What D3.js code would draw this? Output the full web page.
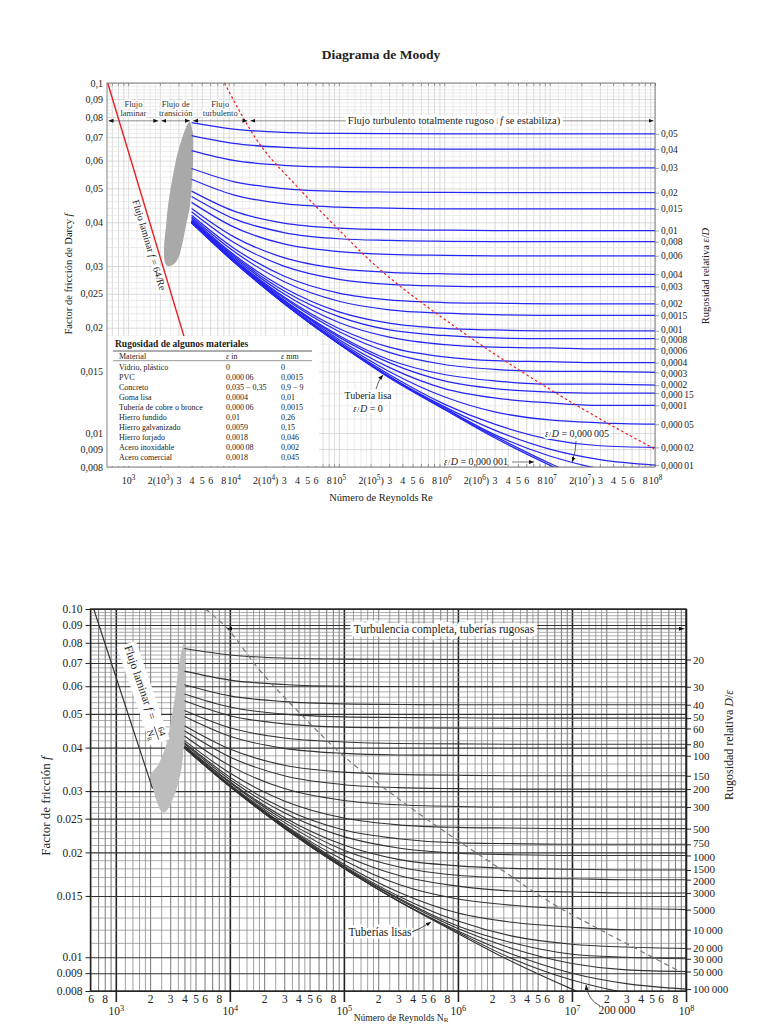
<!DOCTYPE html>
<html>
<head>
<meta charset="utf-8">
<script src="https://cdn.jsdelivr.net/npm/d3@7"></script>
<style>
body { margin: 0; background: #fff; }
svg { display: block; }
text { font-family: "Liberation Serif", "DejaVu Serif", serif; }
</style>
</head>
<body>
<svg id="chart" width="768" height="1024"></svg>
<script>
const reynolds = [4e3, 1e4, 3e4, 1e5, 3e5, 1e6, 3e6, 1e7, 3e7, 1e8];

// top chart: relative roughness e/D labels (right side), one row of f per curve
const roughTopLabels = ["0,05", "0,04", "0,03", "0,02", "0,015", "0,01", "0,008", "0,006",
    "0,004", "0,003", "0,002", "0,0015", "0,001", "0,0008", "0,0006", "0,0004", "0,0003",
    "0,0002", "0,000\u200915", "0,0001", "0,000\u200905", "0,000\u200902", "0,000\u200901"];

const frictionTop = [
    [0.0770, 0.0738, 0.0723, 0.0718, 0.0717, 0.0716, 0.0716, 0.0716, 0.0716, 0.0716],
    [0.0707, 0.0672, 0.0655, 0.0649, 0.0648, 0.0647, 0.0647, 0.0647, 0.0647, 0.0647],
    [0.0641, 0.0601, 0.0582, 0.0575, 0.0573, 0.0572, 0.0572, 0.0572, 0.0572, 0.0572],
    [0.0570, 0.0523, 0.0499, 0.0490, 0.0488, 0.0487, 0.0486, 0.0486, 0.0486, 0.0486],
    [0.0531, 0.0479, 0.0452, 0.0442, 0.0439, 0.0437, 0.0437, 0.0437, 0.0437, 0.0437],
    [0.0491, 0.0431, 0.0398, 0.0385, 0.0381, 0.0380, 0.0379, 0.0379, 0.0379, 0.0379],
    [0.0474, 0.0410, 0.0374, 0.0359, 0.0355, 0.0353, 0.0352, 0.0352, 0.0352, 0.0352],
    [0.0456, 0.0388, 0.0347, 0.0330, 0.0324, 0.0322, 0.0321, 0.0321, 0.0321, 0.0321],
    [0.0438, 0.0364, 0.0317, 0.0295, 0.0288, 0.0285, 0.0284, 0.0284, 0.0284, 0.0284],
    [0.0429, 0.0351, 0.0300, 0.0275, 0.0266, 0.0263, 0.0262, 0.0262, 0.0262, 0.0262],
    [0.0419, 0.0338, 0.0281, 0.0251, 0.0240, 0.0236, 0.0235, 0.0234, 0.0234, 0.0234],
    [0.0414, 0.0331, 0.0271, 0.0238, 0.0225, 0.0220, 0.0218, 0.0217, 0.0217, 0.0217],
    [0.0410, 0.0324, 0.0260, 0.0222, 0.0206, 0.0199, 0.0197, 0.0196, 0.0196, 0.0196],
    [0.0407, 0.0321, 0.0255, 0.0215, 0.0197, 0.0190, 0.0187, 0.0186, 0.0186, 0.0186],
    [0.0404, 0.0318, 0.0250, 0.0207, 0.0188, 0.0179, 0.0176, 0.0175, 0.0174, 0.0174],
    [0.0403, 0.0315, 0.0245, 0.0199, 0.0176, 0.0165, 0.0161, 0.0160, 0.0159, 0.0159],
    [0.0402, 0.0313, 0.0243, 0.0195, 0.0170, 0.0157, 0.0152, 0.0150, 0.0150, 0.0149],
    [0.0401, 0.0312, 0.0240, 0.0190, 0.0162, 0.0147, 0.0141, 0.0138, 0.0138, 0.0137],
    [0.0401, 0.0312, 0.0239, 0.0188, 0.0159, 0.0141, 0.0134, 0.0131, 0.0130, 0.0130],
    [0.0400, 0.0311, 0.0239, 0.0185, 0.0154, 0.0134, 0.0126, 0.0122, 0.0120, 0.0120],
    [0.0400, 0.0310, 0.0237, 0.0183, 0.0150, 0.0127, 0.0115, 0.0109, 0.0107, 0.0106],
    [0.0400, 0.0310, 0.0236, 0.0181, 0.0147, 0.0121, 0.0106, 0.0096, 0.0092, 0.0091],
    [0.0400, 0.0310, 0.0235, 0.0180, 0.0145, 0.0119, 0.0102, 0.0090, 0.0084, 0.0081],
    // e/D = 0,000 005, 0,000 001 and smooth pipe (no side label)
    [0.0399, 0.0309, 0.0235, 0.0180, 0.0145, 0.0118, 0.0099, 0.0086, 0.0079, 0.0075],
    [0.0399, 0.0309, 0.0235, 0.0180, 0.0144, 0.0117, 0.0098, 0.0082, 0.0071, 0.0063],
    [0.0399, 0.0309, 0.0235, 0.0180, 0.0145, 0.0117, 0.0097, 0.0081, 0.0070, 0.0059]
];

// bottom chart: D/e labels and curves
const roughBottomLabels = ["20", "30", "40", "50", "60", "80", "100", "150", "200", "300", "500",
    "750", "1000", "1500", "2000", "3000", "5000", "10\u2009000", "20\u2009000", "30\u2009000",
    "50\u2009000", "100\u2009000"];

const frictionBottom = [
    [0.0770, 0.0738, 0.0723, 0.0718, 0.0717, 0.0716, 0.0716, 0.0716, 0.0716, 0.0716],
    [0.0663, 0.0625, 0.0607, 0.0600, 0.0599, 0.0598, 0.0598, 0.0598, 0.0598, 0.0598],
    [0.0606, 0.0563, 0.0542, 0.0534, 0.0532, 0.0531, 0.0531, 0.0531, 0.0531, 0.0531],
    [0.0570, 0.0523, 0.0499, 0.0490, 0.0488, 0.0487, 0.0486, 0.0486, 0.0486, 0.0486],
    [0.0545, 0.0494, 0.0468, 0.0458, 0.0456, 0.0455, 0.0454, 0.0454, 0.0454, 0.0454],
    [0.0511, 0.0456, 0.0426, 0.0415, 0.0411, 0.0410, 0.0409, 0.0409, 0.0409, 0.0409],
    [0.0491, 0.0431, 0.0398, 0.0385, 0.0381, 0.0380, 0.0379, 0.0379, 0.0379, 0.0379],
    [0.0462, 0.0396, 0.0356, 0.0340, 0.0335, 0.0333, 0.0332, 0.0332, 0.0332, 0.0332],
    [0.0447, 0.0376, 0.0332, 0.0313, 0.0307, 0.0305, 0.0304, 0.0304, 0.0304, 0.0304],
    [0.0432, 0.0355, 0.0305, 0.0282, 0.0274, 0.0271, 0.0270, 0.0270, 0.0270, 0.0270],
    [0.0419, 0.0338, 0.0281, 0.0251, 0.0240, 0.0236, 0.0235, 0.0234, 0.0234, 0.0234],
    [0.0413, 0.0329, 0.0267, 0.0232, 0.0219, 0.0213, 0.0212, 0.0211, 0.0211, 0.0211],
    [0.0410, 0.0324, 0.0260, 0.0222, 0.0206, 0.0199, 0.0197, 0.0196, 0.0196, 0.0196],
    [0.0405, 0.0319, 0.0252, 0.0210, 0.0191, 0.0183, 0.0180, 0.0179, 0.0178, 0.0178],
    [0.0404, 0.0317, 0.0248, 0.0203, 0.0182, 0.0172, 0.0169, 0.0168, 0.0167, 0.0167],
    [0.0402, 0.0313, 0.0244, 0.0196, 0.0172, 0.0160, 0.0155, 0.0154, 0.0153, 0.0153],
    [0.0401, 0.0312, 0.0240, 0.0190, 0.0162, 0.0147, 0.0141, 0.0138, 0.0138, 0.0137],
    [0.0400, 0.0311, 0.0239, 0.0185, 0.0154, 0.0134, 0.0126, 0.0122, 0.0120, 0.0120],
    [0.0400, 0.0310, 0.0237, 0.0183, 0.0150, 0.0127, 0.0115, 0.0109, 0.0107, 0.0106],
    [0.0400, 0.0310, 0.0237, 0.0182, 0.0148, 0.0123, 0.0110, 0.0102, 0.0100, 0.0099],
    [0.0400, 0.0310, 0.0236, 0.0181, 0.0147, 0.0121, 0.0106, 0.0096, 0.0092, 0.0091],
    [0.0400, 0.0310, 0.0235, 0.0180, 0.0145, 0.0119, 0.0102, 0.0090, 0.0084, 0.0081],
    // D/e = 200 000 and smooth pipes
    [0.0399, 0.0309, 0.0235, 0.0180, 0.0145, 0.0118, 0.0099, 0.0086, 0.0079, 0.0075],
    [0.0399, 0.0309, 0.0235, 0.0180, 0.0145, 0.0117, 0.0097, 0.0081, 0.0070, 0.0059]
];

// laminar lines [Re, f]
const laminarTop = [[640, 0.1], [4000, 0.016]];
const laminarBottom = [[640, 0.1], [2100, 0.0305]];

// limit of the fully rough zone [Re, f]
const roughLimitTop = [[8200, 0.1], [16000, 0.07], [43000, 0.0495], [85000, 0.04], [200000, 0.031],
    [1.3e6, 0.02], [5.4e6, 0.015], [1.8e7, 0.012], [3.9e7, 0.0105], [1e8, 0.009]];
const roughLimitBottom = [[6100, 0.1], [9500, 0.088], [17400, 0.068], [41600, 0.05], [93000, 0.0386],
    [311000, 0.0283], [2.2e6, 0.0182], [7.4e6, 0.014], [1.4e7, 0.0125], [8.3e7, 0.0092]];

// critical (transition) zone outlines [Re, f]
const criticalTop = [[3875, 0.0774], [4138, 0.0710], [4138, 0.0603], [4048, 0.0528], [3875, 0.0448],
    [3551, 0.0393], [3326, 0.0356], [3115, 0.0327], [2853, 0.0308], [2503, 0.0300], [2294, 0.0302],
    [2196, 0.0316], [2196, 0.0344], [2294, 0.0393], [2396, 0.0448], [2615, 0.0528], [2917, 0.0623],
    [3326, 0.0710], [3629, 0.0759]];
const criticalBottom = [[3985, 0.0800], [4067, 0.0715], [4067, 0.0548], [3985, 0.0421], [3751, 0.0345],
    [3390, 0.0302], [3003, 0.0274], [2716, 0.0261], [2455, 0.0265], [2265, 0.0283], [2089, 0.0312],
    [2006, 0.0334], [2358, 0.0357], [2771, 0.0407], [3064, 0.0480], [3323, 0.0567], [3530, 0.0669],
    [3751, 0.0754]];

// flow regimes along the top of the first chart
const regimeBounds = [630, 2000, 4000, 14000, 1e8];

const yTickValues = [0.008, 0.009, 0.01, 0.015, 0.02, 0.025, 0.03, 0.04, 0.05, 0.06, 0.07, 0.08, 0.09, 0.1];

// materials table
const materials = ["Vidrio, plástico", "PVC", "Concreto", "Goma lisa", "Tubería de cobre o bronce",
    "Hierro fundido", "Hierro galvanizado", "Hierro forjado", "Acero inoxidable", "Acero comercial"];
const roughIn = ["0", "0,000\u200906", "0,035 \u2212 0,35", "0,0004", "0,000\u200906", "0,01", "0,0059",
    "0,0018", "0,000\u200908", "0,0018"];
const roughMm = ["0", "0,0015", "0,9 \u2212 9", "0,01", "0,0015", "0,26", "0,15", "0,046", "0,002", "0,045"];

// small vertical nudges (px) for crowded side labels
const nudgeTop = { 12: -1, 13: 0.5, 14: 1.5, 15: -0.5, 16: 0.7, 17: -1, 18: 1.2 };
const nudgeBottom = { 3: -1, 4: 1, 11: -1.2, 12: 1, 13: -1.3, 14: 1 };

const svg = d3.select("#chart");
const defs = svg.append("defs");

defs.append("marker")
    .attr("id", "arrow")
    .attr("viewBox", "0 0 10 10")
    .attr("refX", 10).attr("refY", 5)
    .attr("markerUnits", "userSpaceOnUse")
    .attr("markerWidth", 5).attr("markerHeight", 5)
    .attr("orient", "auto-start-reverse")
    .append("path").attr("d", "M0,1L10,5L0,9z").attr("fill", "#111");

function logValues(lo, hi, mults) {
    const out = [];
    for (let e = 2; e <= 8; e++) {
        mults.forEach(m => {
            const v = m * Math.pow(10, e);
            if (v >= lo * 0.999 && v <= hi * 1.001) out.push(v);
        });
    }
    return out;
}

function mantissa(d) {
    const e = Math.floor(Math.log10(d) + 1e-9);
    return { e: e, m: Math.round(d / Math.pow(10, e) * 10) / 10 };
}

function sup(n) {
    return `<tspan dy="-4" font-size="0.72em">${n}</tspan>`;
}

const gridMults = [1, 1.2, 1.4, 1.6, 1.8, 2, 2.5, 3, 3.5, 4, 4.5, 5, 6, 7, 8, 9];
const gridF = d3.range(8, 30, 1).map(v => v / 1000).concat(d3.range(30, 101, 2).map(v => v / 1000));

const curveLine = (x, y) => d3.line()
    .x(d => x(d[0]))
    .y(d => y(d[1]))
    .curve(d3.curveMonotoneX);

drawTop();
drawBottom();

function drawTop() {
    const x = d3.scaleLog().domain([630, 1e8]).range([107, 655]);
    const y = d3.scaleLog().domain([0.008, 0.1]).range([467, 83]);
    const [left, right] = x.range();
    const [bottom, top] = y.range();
    const g = svg.append("g");

    defs.append("clipPath").attr("id", "clip-top").append("rect")
        .attr("x", left).attr("y", top).attr("width", right - left).attr("height", bottom - top);

    // grid
    const gx = g.append("g").attr("transform", `translate(0,${bottom})`)
        .call(d3.axisBottom(x).tickValues(logValues(630, 1e8, gridMults)).tickSize(-(bottom - top)).tickFormat(""));
    gx.select(".domain").remove();
    gx.selectAll("line")
        .attr("stroke", d => Number.isInteger(mantissa(d).m) ? "#cbcbcb" : "#e4e4e4")
        .attr("stroke-width", 0.7);

    const gy = g.append("g").attr("transform", `translate(${left},0)`)
        .call(d3.axisLeft(y).tickValues(gridF).tickSize(-(right - left)).tickFormat(""));
    gy.select(".domain").remove();
    gy.selectAll("line")
        .attr("stroke", d => yTickValues.some(v => Math.abs(v - d) < 1e-6) ? "#cbcbcb" : "#e4e4e4")
        .attr("stroke-width", 0.7);

    const plot = g.append("g").attr("clip-path", "url(#clip-top)");
    const line = curveLine(x, y);

    plot.append("path")
        .datum(criticalTop)
        .attr("d", d3.line().x(d => x(d[0])).y(d => y(d[1])).curve(d3.curveCardinalClosed.tension(0.3)))
        .attr("fill", "#a9a9a9");

    plot.append("path").datum(laminarTop)
        .attr("d", d3.line().x(d => x(d[0])).y(d => y(d[1])))
        .attr("fill", "none").attr("stroke", "#ee1c1c").attr("stroke-width", 1.4);

    plot.selectAll(".curve")
        .data(frictionTop)
        .enter().append("path")
        .attr("class", "curve")
        .attr("d", row => line(reynolds.map((r, i) => [r, row[i]])))
        .attr("fill", "none")
        .attr("stroke", "#2626f2")
        .attr("stroke-width", 1.25);

    plot.append("path").datum(roughLimitTop)
        .attr("d", line)
        .attr("fill", "none").attr("stroke", "#f01a1a")
        .attr("stroke-width", 1.2).attr("stroke-dasharray", "2.5,2.5");

    // flow regimes
    const fReg = 0.078;
    const regimes = g.append("g");
    for (let i = 0; i < regimeBounds.length - 1; i++) {
        regimes.append("line")
            .attr("x1", x(regimeBounds[i]) + 1.5).attr("x2", x(regimeBounds[i + 1]) - 1.5)
            .attr("y1", y(fReg)).attr("y2", y(fReg))
            .attr("stroke", "#555").attr("stroke-width", 0.6)
            .attr("marker-start", "url(#arrow)").attr("marker-end", "url(#arrow)");
    }
    const regimeText = [["Flujo", "laminar"], ["Flujo de", "transición"], ["Flujo", "turbulento"]];
    regimeText.forEach((lines, i) => {
        const cx = x(Math.sqrt(regimeBounds[i] * regimeBounds[i + 1]));
        lines.forEach((t, j) => {
            regimes.append("text")
                .attr("x", cx).attr("y", y(fReg) - 14 + j * 9)
                .attr("text-anchor", "middle").attr("font-size", 8.5).attr("fill", "#333")
                .attr("stroke", "#fff").attr("stroke-width", 3).attr("paint-order", "stroke")
                .text(t);
        });
    });
    regimes.append("text")
        .attr("x", 454).attr("y", y(fReg) + 3.5)
        .attr("text-anchor", "middle").attr("font-size", 10.5).attr("fill", "#222")
        .attr("stroke", "#fff").attr("stroke-width", 6).attr("paint-order", "stroke")
        .html('Flujo turbulento totalmente rugoso (<tspan font-style="italic">f</tspan> se estabiliza)');

    // laminar label
    g.append("text")
        .attr("transform", "translate(146,246) rotate(73)")
        .attr("text-anchor", "middle").attr("font-size", 10).attr("fill", "#222")
        .attr("stroke", "#fff").attr("stroke-width", 4).attr("paint-order", "stroke")
        .html('Flujo laminar <tspan font-style="italic">f</tspan> = 64/Re');

    // annotations
    const ann = g.append("g").attr("font-size", 10).attr("fill", "#222").attr("text-anchor", "middle");
    ann.append("text").attr("x", 368).attr("y", 399)
        .attr("stroke", "#fff").attr("stroke-width", 4).attr("paint-order", "stroke").text("Tubería lisa");
    ann.append("text").attr("x", 368).attr("y", 412)
        .attr("stroke", "#fff").attr("stroke-width", 4).attr("paint-order", "stroke")
        .html('<tspan font-style="italic">ε</tspan>/<tspan font-style="italic">D</tspan> = 0');
    ann.append("path").attr("d", "M376,389 Q378,381 383,375")
        .attr("fill", "none").attr("stroke", "#222").attr("stroke-width", 0.7).attr("marker-end", "url(#arrow)");
    ann.append("text").attr("x", 577).attr("y", 437)
        .attr("stroke", "#fff").attr("stroke-width", 4).attr("paint-order", "stroke")
        .html('<tspan font-style="italic">ε</tspan>/<tspan font-style="italic">D</tspan> = 0,000\u2009005');
    ann.append("path").attr("d", "M576,441 Q576,452 572,462")
        .attr("fill", "none").attr("stroke", "#222").attr("stroke-width", 0.7).attr("marker-end", "url(#arrow)");
    ann.append("text").attr("x", 476).attr("y", 465)
        .attr("stroke", "#fff").attr("stroke-width", 4).attr("paint-order", "stroke")
        .html('<tspan font-style="italic">ε</tspan>/<tspan font-style="italic">D</tspan> = 0,000\u2009001');
    ann.append("line").attr("x1", 512).attr("x2", 534).attr("y1", 462).attr("y2", 462)
        .attr("stroke", "#bbb").attr("stroke-width", 2).attr("marker-end", "url(#arrow)");

    // frame
    g.append("rect").attr("x", left).attr("y", top).attr("width", right - left).attr("height", bottom - top)
        .attr("fill", "none").attr("stroke", "#666").attr("stroke-width", 0.8);

    const majorX = logValues(630, 1e8, [1, 2, 3, 4, 5, 6, 7, 8, 9]);
    [["axisTop", top], ["axisBottom", bottom]].forEach(([fn, yy]) => {
        const t = g.append("g").attr("transform", `translate(0,${yy})`)
            .call(d3[fn](x).tickValues(majorX).tickSize(-3).tickFormat(""));
        t.select(".domain").remove();
        t.selectAll("line").attr("stroke", "#666").attr("stroke-width", 0.6);
    });

    // materials table
    const tb = g.append("g").attr("fill", "#222");
    tb.append("rect").attr("x", left + 1).attr("y", 336).attr("width", 211).attr("height", bottom - 337)
        .attr("fill", "#fff");
    tb.append("text").attr("x", 115).attr("y", 347).attr("font-size", 9.5).attr("font-weight", "bold")
        .text("Rugosidad de algunos materiales");
    tb.append("line").attr("x1", 113).attr("x2", 312).attr("y1", 351).attr("y2", 351)
        .attr("stroke", "#333").attr("stroke-width", 0.8);
    tb.append("line").attr("x1", 113).attr("x2", 312).attr("y1", 360.7).attr("y2", 360.7)
        .attr("stroke", "#333").attr("stroke-width", 0.5);
    const colX = [119, 226, 281];
    tb.append("text").attr("x", colX[0]).attr("y", 358.5).attr("font-size", 8).text("Material");
    tb.append("text").attr("x", colX[1]).attr("y", 358.5).attr("font-size", 8)
        .html('<tspan font-style="italic">ε</tspan> in');
    tb.append("text").attr("x", colX[2]).attr("y", 358.5).attr("font-size", 8)
        .html('<tspan font-style="italic">ε</tspan> mm');
    materials.forEach((m, i) => {
        const yy = 369.7 + i * 10;
        tb.append("text").attr("x", colX[0]).attr("y", yy).attr("font-size", 8).text(m);
        tb.append("text").attr("x", colX[1]).attr("y", yy).attr("font-size", 8).text(roughIn[i]);
        tb.append("text").attr("x", colX[2]).attr("y", yy).attr("font-size", 8).text(roughMm[i]);
    });

    // axes
    const ay = g.append("g").attr("transform", `translate(${left},0)`)
        .call(d3.axisLeft(y).tickValues(yTickValues).tickSize(0).tickPadding(4)
            .tickFormat(d => String(d).replace(".", ",")));
    ay.select(".domain").remove();
    ay.selectAll("text").attr("font-size", 10).attr("fill", "#222")
        .attr("font-family", '"Liberation Serif", serif');

    const xTicks = logValues(1000, 1e8, [1, 2, 3, 4, 5, 6, 8]);
    const ax = g.append("g").attr("transform", `translate(0,${bottom})`)
        .call(d3.axisBottom(x).tickValues(xTicks).tickSize(0).tickPadding(10));
    ax.select(".domain").remove();
    ax.selectAll("text").attr("font-size", 10).attr("fill", "#222")
        .attr("font-family", '"Liberation Serif", serif')
        .html(d => {
            const { e, m } = mantissa(d);
            if (m === 1) return "10" + sup(e);
            if (m === 2) return "2(10" + sup(e) + '<tspan dy="4">)</tspan>';
            return String(m);
        });

    const roughF = frictionTop.slice(0, roughTopLabels.length).map(row => row[row.length - 1]);
    const ar = g.append("g").attr("transform", `translate(${right},0)`)
        .call(d3.axisRight(y).tickValues(roughF).tickSize(4).tickPadding(2)
            .tickFormat((d, i) => roughTopLabels[i]));
    ar.select(".domain").remove();
    ar.selectAll("line").attr("stroke", "#666").attr("stroke-width", 0.6);
    ar.selectAll("text").attr("font-size", 9.5).attr("fill", "#222")
        .attr("font-family", '"Liberation Serif", serif')
        .attr("transform", (d, i) => `translate(0,${nudgeTop[i] || 0})`);

    // titles
    g.append("text").attr("x", 381).attr("y", 59).attr("text-anchor", "middle")
        .attr("font-size", 13.5).attr("font-weight", "bold").attr("fill", "#222")
        .text("Diagrama de Moody");
    g.append("text").attr("x", 381).attr("y", 501).attr("text-anchor", "middle")
        .attr("font-size", 10.5).attr("fill", "#222").text("Número de Reynolds Re");
    g.append("text").attr("transform", "translate(72,274) rotate(-90)").attr("text-anchor", "middle")
        .attr("font-size", 10.5).attr("fill", "#222")
        .html('Factor de fricción de Darcy <tspan font-style="italic">f</tspan>');
    g.append("text").attr("transform", "translate(709,276) rotate(-90)").attr("text-anchor", "middle")
        .attr("font-size", 10.5).attr("fill", "#222")
        .html('Rugosidad relativa <tspan font-style="italic">ε</tspan>/<tspan font-style="italic">D</tspan>');
}

function drawBottom() {
    const x = d3.scaleLog().domain([600, 1e8]).range([90.5, 686]);
    const y = d3.scaleLog().domain([0.008, 0.1]).range([991, 609]);
    const [left, right] = x.range();
    const [bottom, top] = y.range();
    const g = svg.append("g");

    defs.append("clipPath").attr("id", "clip-bottom").append("rect")
        .attr("x", left).attr("y", top).attr("width", right - left).attr("height", bottom - top);

    // grid
    const gx = g.append("g").attr("transform", `translate(0,${bottom})`)
        .call(d3.axisBottom(x).tickValues(logValues(600, 1e8, gridMults)).tickSize(-(bottom - top)).tickFormat(""));
    gx.select(".domain").remove();
    gx.selectAll("line")
        .attr("stroke", d => mantissa(d).m === 1 ? "#222" : (Number.isInteger(mantissa(d).m) ? "#555" : "#8a8a8a"))
        .attr("stroke-width", d => mantissa(d).m === 1 ? 1.6 : 0.8);

    const gy = g.append("g").attr("transform", `translate(${left},0)`)
        .call(d3.axisLeft(y).tickValues(gridF).tickSize(-(right - left)).tickFormat(""));
    gy.select(".domain").remove();
    gy.selectAll("line")
        .attr("stroke", d => yTickValues.some(v => Math.abs(v - d) < 1e-6) ? "#333" : "#8a8a8a")
        .attr("stroke-width", d => yTickValues.some(v => Math.abs(v - d) < 1e-6) ? 1.1 : 0.7);

    const plot = g.append("g").attr("clip-path", "url(#clip-bottom)");
    const line = curveLine(x, y);

    plot.append("path")
        .datum(criticalBottom)
        .attr("d", d3.line().x(d => x(d[0])).y(d => y(d[1])).curve(d3.curveCardinalClosed.tension(0.3)))
        .attr("fill", "#bdbdbd");

    plot.append("path").datum(laminarBottom)
        .attr("d", d3.line().x(d => x(d[0])).y(d => y(d[1])))
        .attr("fill", "none").attr("stroke", "#333").attr("stroke-width", 1.2);

    plot.selectAll(".curve")
        .data(frictionBottom)
        .enter().append("path")
        .attr("class", "curve")
        .attr("d", row => line(reynolds.map((r, i) => [r, row[i]])))
        .attr("fill", "none")
        .attr("stroke", "#333")
        .attr("stroke-width", 1.1);

    plot.append("path").datum(roughLimitBottom)
        .attr("d", line)
        .attr("fill", "none").attr("stroke", "#777")
        .attr("stroke-width", 1.2).attr("stroke-dasharray", "5,4");

    // full turbulence band
    const fBand = 0.0878;
    g.append("line")
        .attr("x1", x(9500)).attr("x2", right - 2)
        .attr("y1", y(fBand)).attr("y2", y(fBand))
        .attr("stroke", "#333").attr("stroke-width", 0.8)
        .attr("marker-start", "url(#arrow)").attr("marker-end", "url(#arrow)");
    g.append("text").attr("x", 444).attr("y", y(fBand) + 4)
        .attr("text-anchor", "middle").attr("font-size", 11.5).attr("fill", "#222")
        .attr("stroke", "#fff").attr("stroke-width", 7).attr("paint-order", "stroke")
        .text("Turbulencia completa, tuberías rugosas");

    // laminar label with fraction
    const lam = g.append("g").attr("transform", "translate(127,646) rotate(71)")
        .attr("font-size", 11.5).attr("fill", "#222");
    lam.append("rect").attr("x", -2).attr("y", -10).attr("width", 104).attr("height", 20).attr("fill", "#fff");
    lam.append("text").attr("x", 0).attr("y", 3)
        .html('Flujo laminar <tspan font-style="italic">f</tspan> =');
    lam.append("text").attr("x", 92).attr("y", -2).attr("text-anchor", "middle").attr("font-size", 9).text("64");
    lam.append("line").attr("x1", 85).attr("x2", 99).attr("y1", 0.5).attr("y2", 0.5).attr("stroke", "#222").attr("stroke-width", 0.7);
    lam.append("text").attr("x", 92).attr("y", 9).attr("text-anchor", "middle").attr("font-size", 9)
        .html('N<tspan dy="2" font-size="6">R</tspan>');

    // annotations
    g.append("text").attr("x", 380).attr("y", 936).attr("text-anchor", "middle")
        .attr("font-size", 11.5).attr("fill", "#222")
        .attr("stroke", "#fff").attr("stroke-width", 5).attr("paint-order", "stroke")
        .text("Tuberías lisas");
    g.append("path").attr("d", "M412,932 Q420,929 431,922")
        .attr("fill", "none").attr("stroke", "#222").attr("stroke-width", 0.8).attr("marker-end", "url(#arrow)");
    g.append("path").attr("d", "M600,1006 Q588,1000 586,985")
        .attr("fill", "none").attr("stroke", "#222").attr("stroke-width", 0.8).attr("marker-end", "url(#arrow)");

    // frame
    g.append("rect").attr("x", left).attr("y", top).attr("width", right - left).attr("height", bottom - top)
        .attr("fill", "none").attr("stroke", "#222").attr("stroke-width", 1.4);

    // axes
    const ay = g.append("g").attr("transform", `translate(${left},0)`)
        .call(d3.axisLeft(y).tickValues(yTickValues).tickSize(5).tickPadding(3)
            .tickFormat(d => d === 0.1 ? "0.10" : String(d)));
    ay.select(".domain").remove();
    ay.selectAll("line").attr("stroke", "#222");
    ay.selectAll("text").attr("font-size", 11.5).attr("fill", "#222")
        .attr("font-family", '"Liberation Serif", serif');

    const xTicks = [600, 800].concat(logValues(1000, 1e8, [1, 2, 3, 4, 5, 6, 8]));
    const ax = g.append("g").attr("transform", `translate(0,${bottom})`)
        .call(d3.axisBottom(x).tickValues(xTicks).tickSize(0).tickPadding(4));
    ax.select(".domain").remove();
    ax.selectAll("text").attr("font-size", 11.5).attr("fill", "#222")
        .attr("font-family", '"Liberation Serif", serif')
        .attr("dy", d => mantissa(d).m === 1 ? "1.75em" : "0.71em")
        .html(d => mantissa(d).m === 1 ? "10" + sup(mantissa(d).e) : String(mantissa(d).m));

    const decadeTicks = g.append("g").attr("transform", `translate(0,${bottom})`)
        .call(d3.axisBottom(x).tickValues(logValues(1000, 1e8, [1])).tickSize(11).tickFormat(""));
    decadeTicks.select(".domain").remove();
    decadeTicks.selectAll("line").attr("stroke", "#222").attr("stroke-width", 1.6);

    const roughF = frictionBottom.slice(0, roughBottomLabels.length).map(row => row[row.length - 1]);
    const ar = g.append("g").attr("transform", `translate(${right},0)`)
        .call(d3.axisRight(y).tickValues(roughF).tickSize(5).tickPadding(2)
            .tickFormat((d, i) => roughBottomLabels[i]));
    ar.select(".domain").remove();
    ar.selectAll("line").attr("stroke", "#222");
    ar.selectAll("text").attr("font-size", 11).attr("fill", "#222")
        .attr("font-family", '"Liberation Serif", serif')
        .attr("transform", (d, i) => `translate(0,${nudgeBottom[i] || 0})`);

    g.append("text").attr("x", 617).attr("y", 1014).attr("text-anchor", "middle")
        .attr("font-size", 11.5).attr("fill", "#222").text("200\u2009000");

    // titles
    g.append("text").attr("transform", "translate(50,806) rotate(-90)").attr("text-anchor", "middle")
        .attr("font-size", 13).attr("fill", "#222")
        .html('Factor de fricción <tspan font-style="italic">f</tspan>');
    g.append("text").attr("transform", "translate(733,745) rotate(-90)").attr("text-anchor", "middle")
        .attr("font-size", 12).attr("fill", "#222")
        .html('Rugosidad relativa <tspan font-style="italic">D</tspan>/<tspan font-style="italic">ε</tspan>');
    // sits low, between the 10^5 and 10^6 labels, so it stays inside the page
    g.append("text").attr("x", 401).attr("y", 1020.5).attr("text-anchor", "middle")
        .attr("font-size", 9.5).attr("fill", "#222")
        .html('Número de Reynolds N<tspan dy="1.5" font-size="7">R</tspan>');
}
</script>
</body>
</html>
